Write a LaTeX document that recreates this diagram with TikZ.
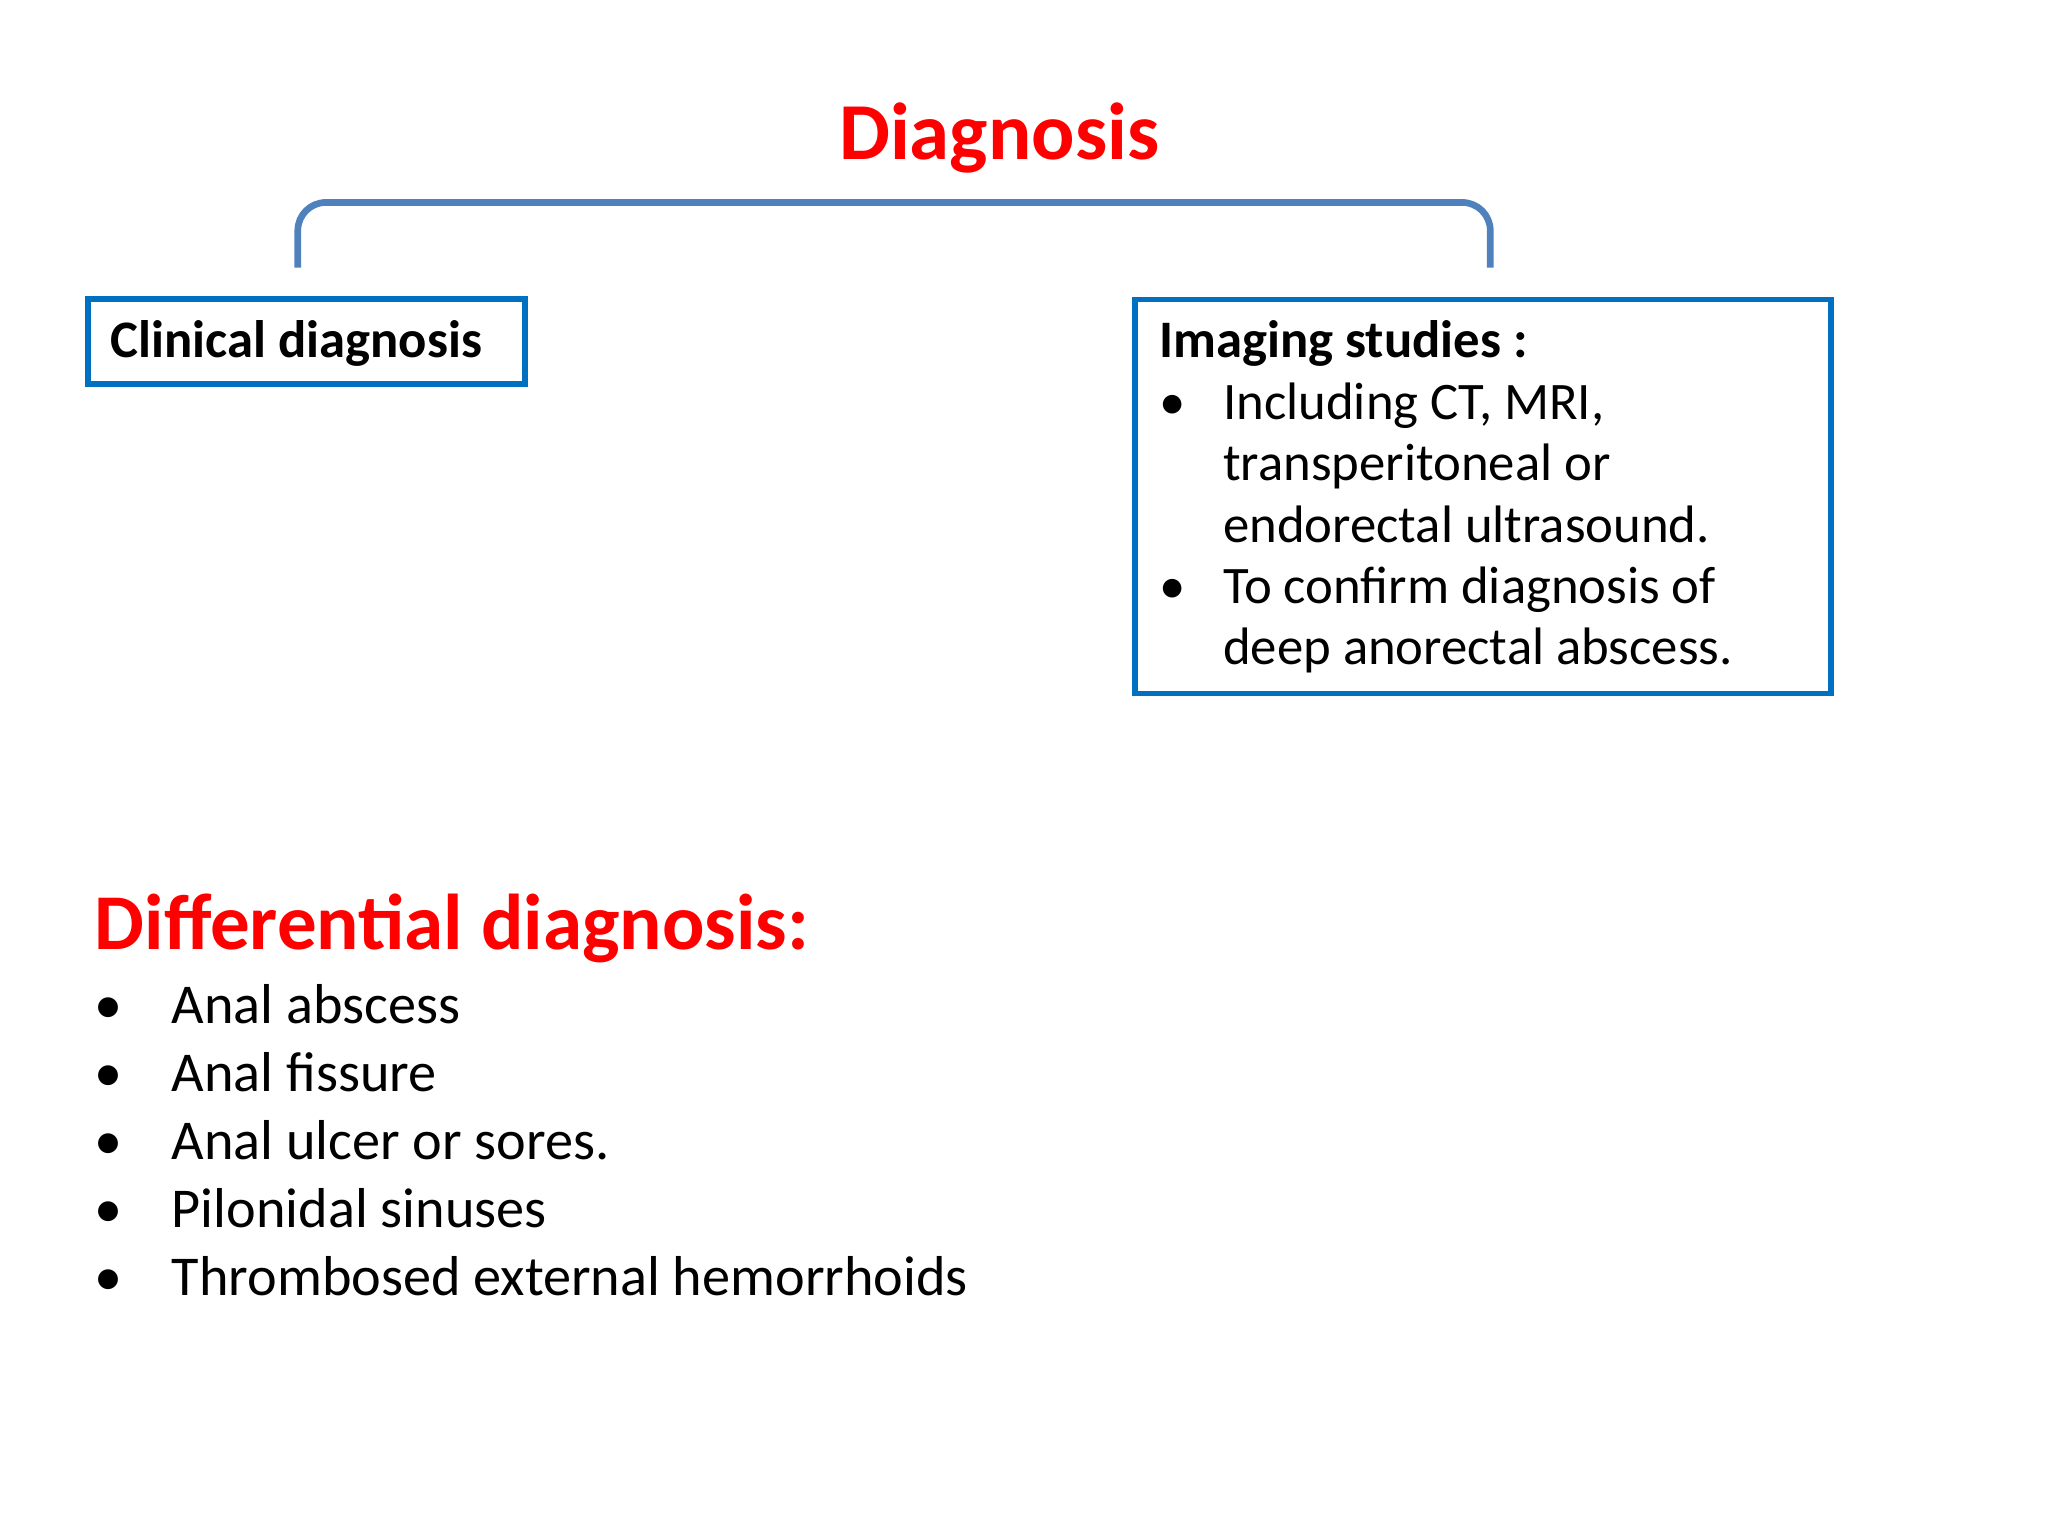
\documentclass[tikz,border=0pt]{standalone}
\usepackage{fontspec}
\setmainfont{Carlito}
\usetikzlibrary{positioning}
\definecolor{titlered}{RGB}{255,0,0}
\definecolor{boxblue}{RGB}{0,112,192}
\definecolor{brablue}{RGB}{79,129,189}
\begin{document}
\begin{tikzpicture}[x=0.01306cm,y=-0.01306cm,
	box/.style={draw=boxblue, line width=1.6pt, inner sep=0pt},
	txt/.style={anchor=base west, inner sep=0pt, font=\fontsize{15}{17}\selectfont},
	lst/.style={anchor=base west, inner sep=0pt, font=\fontsize{16}{18}\selectfont}]
		% Frame:
		\useasboundingbox (0,0) rectangle (1568,1176);
		% Title and bracket:
		\node[anchor=base, inner sep=0pt, text=titlered, font=\fontsize{23}{27}\bfseries\selectfont] (title) at (765,122){Diagnosis};
		\coordinate (bl) at (228,205);
		\coordinate (br) at (1141,205);
		\draw[brablue, line width=1.9pt, rounded corners=8pt] (bl) -- (228,155) -- (1141,155) -- (br);
		% Boxes:
		\node[box, minimum width=4.37cm, minimum height=0.85cm] (clin) at (234.5,261.5){};
		\node[txt, font=\fontsize{15}{17}\bfseries\selectfont] (clintxt) at (84,274){Clinical diagnosis};
		\node[box, minimum width=6.96cm, minimum height=3.94cm] (imag) at (1135.5,380){};
		\node[txt, font=\fontsize{15}{17}\bfseries\selectfont] (imagtxt) at (887,274){Imaging studies :};
		\foreach \y/\b/\t in {321/\textbullet/{Including CT, MRI,}, 368//{transperitoneal or}, 415//{endorectal ultrasound.}, 462/\textbullet/{To confirm diagnosis of}, 509//{deep anorectal abscess.}}{
			\node[txt] at (887,\y){\b};
			\node[txt] at (936,\y){\t};
		}
		% Differential diagnosis:
		\node[anchor=base west, inner sep=0pt, text=titlered, font=\fontsize{22.5}{27}\bfseries\selectfont] (diff) at (72,727){Differential diagnosis:};
		\foreach \y/\t in {784/Anal abscess, 836/Anal fissure, 888/Anal ulcer or sores., 940/Pilonidal sinuses, 992/Thrombosed external hemorrhoids}{
			\node[lst] at (72,\y){\textbullet};
			\node[lst] at (131,\y){\t};
		}
	\end{tikzpicture}
\end{document}
